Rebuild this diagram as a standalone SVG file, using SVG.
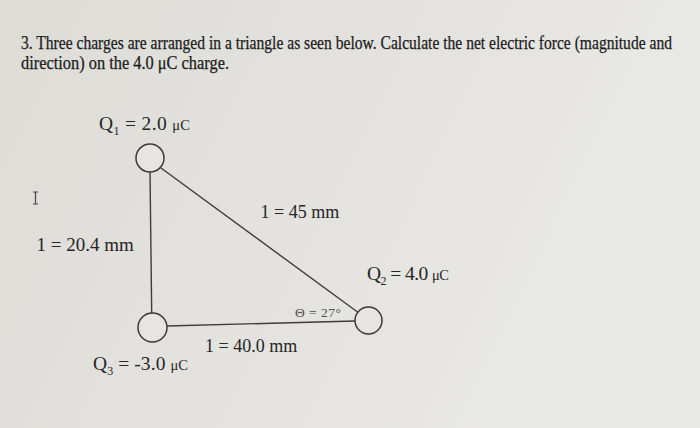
<svg xmlns="http://www.w3.org/2000/svg" width="700" height="428" viewBox="0 0 700 428">
<defs>
<linearGradient id="bg" x1="0" y1="0" x2="1" y2="0.3">
<stop offset="0" stop-color="#dddcd7"/>
<stop offset="0.6" stop-color="#e4e3df"/>
<stop offset="1" stop-color="#e9e9e6"/>
</linearGradient>
<style>
.t{font-family:"Liberation Serif","Times New Roman",serif;fill:#1c1c1c;stroke:#1c1c1c;stroke-width:0.25}
.lab{font-family:"Liberation Serif","Times New Roman",serif;fill:#262626;font-size:19.5px}
.dim{font-family:"Liberation Serif","Times New Roman",serif;fill:#262626;font-size:18px}
.u{font-size:14.5px}
.s{font-size:12px}
.edge{stroke:#3c3c3c;stroke-width:1.4;fill:none}
.node{stroke:#3a3a3a;stroke-width:1.5;fill:#e6e5e1}
</style>
</defs>
<rect width="700" height="428" fill="url(#bg)"/>
<text class="t" x="21" y="49" font-size="18" textLength="651" lengthAdjust="spacingAndGlyphs">3. Three charges are arranged in a triangle as seen below. Calculate the net electric force (magnitude and</text>
<text class="t" x="21" y="69" font-size="18" textLength="208" lengthAdjust="spacingAndGlyphs">direction) on the 4.0 μC charge.</text>
<path d="M33 192H38M35.5 192V204M33 204H38" stroke="#444" stroke-width="1.2" fill="none"/>
<g id="connectors">
<line class="edge" x1="150" y1="172" x2="151.7" y2="313"/>
<line class="edge" x1="166.5" y1="326" x2="355" y2="321"/>
<line class="edge" x1="161" y1="168" x2="357.5" y2="312"/>
</g>
<g id="q1">
<circle class="node" cx="150" cy="158" r="14"/>
<text class="lab" x="99" y="130" textLength="91">Q<tspan class="s" dy="5">1</tspan><tspan dy="-5"> = 2.0 </tspan><tspan class="u">μC</tspan></text>
</g>
<g id="q2">
<circle class="node" cx="368.5" cy="320.5" r="13.5"/>
<text class="lab" x="367" y="280" textLength="82">Q<tspan class="s" dy="5">2</tspan><tspan dy="-5"> = 4.0 </tspan><tspan class="u">μC</tspan></text>
</g>
<g id="q3">
<circle class="node" cx="152.5" cy="327.5" r="14.5"/>
<text class="lab" x="93" y="370" textLength="95">Q<tspan class="s" dy="5">3</tspan><tspan dy="-5"> = -3.0 </tspan><tspan class="u">μC</tspan></text>
</g>
<g id="labels">
<text class="dim" x="260.5" y="218">1 = 45 mm</text>
<text class="dim" x="36.5" y="250.5" style="font-size:19px">1 = 20.4 mm</text>
<text class="dim" x="205" y="352">1 = 40.0 mm</text>
<text class="dim" x="295" y="316.5" style="font-size:13.5px;fill:#505050" textLength="46">Θ = 27°</text>
</g>
</svg>
